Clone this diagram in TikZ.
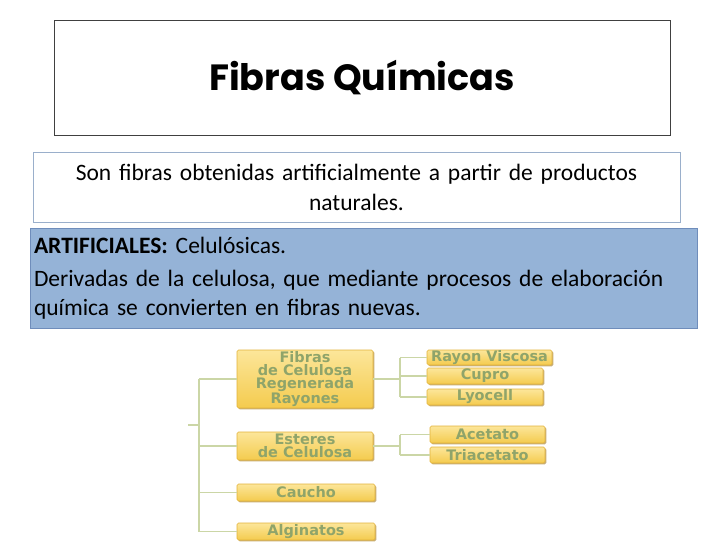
\documentclass[tikz,border=0pt]{standalone}
\usepackage{fontspec}
\setmainfont{Carlito}
\newfontfamily\titulofont{Poppins}
\newfontfamily\cajafont{DejaVu Sans}
\usetikzlibrary{shadows}

\definecolor{azulcaja}{HTML}{95B3D7}
\definecolor{azulborde}{HTML}{6F8DBB}
\definecolor{bordegris}{HTML}{9AAFCB}
\definecolor{oroclaro}{HTML}{FCE69A}
\definecolor{oro}{HTML}{F4CB4E}
\definecolor{orobordo}{HTML}{E2B23A}
\definecolor{sombra}{HTML}{B08A3A}
\definecolor{verdetexto}{HTML}{8FA46A}
\definecolor{verderama}{HTML}{CBD6A6}

\tikzset{
    cajaoro/.style={rectangle, rounded corners=1.5pt, top color=oroclaro, bottom color=oro,
        draw=orobordo, line width=0.6pt, inner sep=0pt, align=center,
        drop shadow={shadow xshift=1.3pt, shadow yshift=-1.3pt, fill=sombra, opacity=0.7},
        font=\cajafont\bfseries\fontsize{14.5}{13}\selectfont, text=verdetexto},
    rama/.style={draw=verderama, line width=1.8pt}
}

\begin{document}
\begin{tikzpicture}[x=1pt,y=-1pt]
    \useasboundingbox (0,0) rectangle (728,546);
    % title
    \node[draw=black!75, line width=0.9pt, minimum width=616pt, minimum height=115pt,
        font=\titulofont\bfseries\fontsize{36.5}{40}\selectfont] (titulo) at (362,77.5) {Fibras Químicas};
    % definition
    \node[draw=bordegris, line width=0.7pt, minimum width=647pt, minimum height=70pt,
        text width=620pt, align=center, font=\fontsize{23.5}{30}\selectfont] (definicion) at (356.5,187)
        {Son fibras obtenidas artificialmente a partir de productos\\naturales.};
    % artificial fibres
    \node[fill=azulcaja, draw=azulborde, line width=0.8pt, minimum width=667pt, minimum height=100pt,
        text width=659pt, align=left, font=\fontsize{23.5}{29}\selectfont] (artificiales) at (363.5,278)
        {\textbf{ARTIFICIALES:} Celulósicas.\\[4pt]Derivadas de la celulosa, que mediante procesos de elaboración\\química se convierten en fibras nuevas.};
    % tree, first level
    \node[cajaoro, minimum width=136pt, minimum height=58pt] (fibras) at (305,379)
        {Fibras\\de Celulosa\\Regenerada\\Rayones};
    \node[cajaoro, minimum width=136pt, minimum height=28pt] (esteres) at (305,446)
        {Esteres\\de Celulosa};
    \node[cajaoro, minimum width=138pt, minimum height=17pt] (caucho) at (306,492.5) {Caucho};
    \node[cajaoro, minimum width=138pt, minimum height=17pt] (alginatos) at (306,531.5) {Alginatos};
    % tree, second level
    \node[cajaoro, minimum width=125pt, minimum height=15pt] (viscosa) at (489.5,357.5) {Rayon Viscosa};
    \node[cajaoro, minimum width=116pt, minimum height=16pt] (cupro) at (485,376) {Cupro};
    \node[cajaoro, minimum width=116pt, minimum height=16pt] (lyocell) at (485,397) {Lyocell};
    \node[cajaoro, minimum width=115pt, minimum height=17pt] (acetato) at (487.5,434.5) {Acetato};
    \node[cajaoro, minimum width=115pt, minimum height=16pt] (triacetato) at (487.5,455) {Triacetato};
    % branches
    \coordinate (tronco) at (199,425);
    \coordinate (raiz) at (188,425);
    \coordinate (nudo) at (400,0);
    \draw[rama] (raiz) -- (tronco);
    \draw[rama] (tronco |- fibras.west) -- (tronco |- alginatos.west);
    \foreach \caja in {fibras, esteres, caucho, alginatos} {
        \draw[rama] (tronco |- \caja.west) -- (\caja.west);
    }
    \draw[rama] (fibras.east) -- (nudo |- fibras.east);
    \draw[rama] (nudo |- viscosa.west) -- (nudo |- lyocell.west);
    \foreach \caja in {viscosa, cupro, lyocell} {
        \draw[rama] (nudo |- \caja.west) -- (\caja.west);
    }
    \draw[rama] (esteres.east) -- (nudo |- esteres.east);
    \draw[rama] (nudo |- acetato.west) -- (nudo |- triacetato.west);
    \foreach \caja in {acetato, triacetato} {
        \draw[rama] (nudo |- \caja.west) -- (\caja.west);
    }
\end{tikzpicture}
\end{document}
